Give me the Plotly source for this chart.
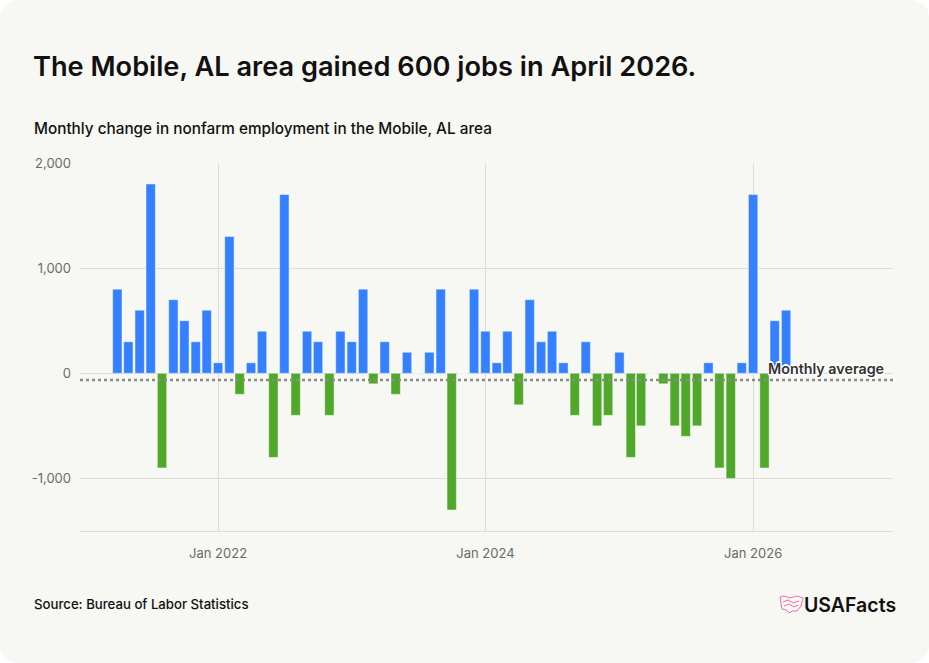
import plotly.graph_objects as go
import pandas as pd

# ---- data ----
start_month = "2021-04-01"
job_change = [800, 300, 600, 1800, -900, 700, 500, 300, 600, 100,
              1300, -200, 100, 400, -800, 1700, -400, 400, 300, -400,
              400, 300, 800, -100, 300, -200, 200, 0, 200, 800,
              -1300, 0, 800, 400, 100, 400, -300, 700, 300, 400,
              100, -400, 300, -500, -400, 200, -800, -500, 0, -100,
              -500, -600, -500, 100, -900, -1000, 100, 1700, -900, 500,
              600]
months = pd.date_range(start_month, periods=len(job_change), freq="MS")
monthly_average = -65
tick_dates = ["2022-01-01", "2024-01-01", "2026-01-01"]
tick_labels = ["Jan 2022", "Jan 2024", "Jan 2026"]
y_ticks = [-1000, 0, 1000, 2000]
y_tick_labels = ["-1,000", "0", "1,000", "2,000"]

title = "The Mobile, AL area gained 600 jobs in April 2026."
subtitle = "Monthly change in nonfarm employment in the Mobile, AL area"
source = "Source: Bureau of Labor Statistics"

# ---- style ----
W, H = 929, 663
L, R, T, B = 80, 36, 163, 132
PW, PH = W - L - R, H - T - B
CARD = "#F7F7F3"
BLUE = "#3580FF"
GREEN = "#4FA82A"
GRID = "#DDDDD8"
FONT = "Inter, Roboto, sans-serif"


def px(x, y):
    return (x - L) / PW, (H - B - y) / PH


colors = [BLUE if v >= 0 else GREEN for v in job_change]

fig = go.Figure()
fig.add_trace(go.Bar(
    x=months, y=job_change,
    marker=dict(color=colors, line=dict(color="rgba(255,255,255,0.45)", width=1)),
    width=25.5 * 86400000,
    hoverinfo="x+y",
))

# dotted average line
fig.add_shape(type="line", xref="paper", yref="y", x0=0, x1=1,
              y0=monthly_average, y1=monthly_average,
              line=dict(color="#8A8A8A", width=2.5, dash="dot"))

# card background with rounded corners
r = 20
x0p, x1p = 0, W
y0p, y1p = 0, H


def pt(x, y):
    a, b = px(x, y)
    return f"{a:.5f},{b:.5f}"


card_path = (f"M {pt(x0p + r, y0p)} L {pt(x1p - r, y0p)} Q {pt(x1p, y0p)} {pt(x1p, y0p + r)} "
             f"L {pt(x1p, y1p - r)} Q {pt(x1p, y1p)} {pt(x1p - r, y1p)} "
             f"L {pt(x0p + r, y1p)} Q {pt(x0p, y1p)} {pt(x0p, y1p - r)} "
             f"L {pt(x0p, y0p + r)} Q {pt(x0p, y0p)} {pt(x0p + r, y0p)} Z")
fig.add_shape(type="path", xref="paper", yref="paper", path=card_path,
              fillcolor=CARD, line=dict(width=0), layer="below")

# small pink logo mark (outline style)
pink = "#EE6FAE"
logo_paths = [
    [(783, 602), (788, 600), (793, 603), (799, 601)],
    [(784, 606), (789, 604), (794, 607), (798, 605)],
]
for seg in logo_paths:
    p = "M " + " L ".join(pt(x, y) for x, y in seg)
    fig.add_shape(type="path", xref="paper", yref="paper", path=p,
                  line=dict(color=pink, width=1))
outline = [(780, 597), (784, 596), (790, 598), (797, 596), (803, 598), (801, 606),
           (797, 611), (792, 611), (790, 613), (786, 610), (782, 609), (780, 597)]
fig.add_shape(type="path", xref="paper", yref="paper",
              path="M " + " L ".join(pt(x, y) for x, y in outline) + " Z",
              line=dict(color=pink, width=1))


def add_text(text, x, y, size, color, weight=400, xanchor="left", family=FONT):
    a, b = px(x, y)
    fig.add_annotation(text=text, xref="paper", yref="paper", x=a, y=b,
                       xanchor=xanchor, yanchor="middle", showarrow=False,
                       font=dict(size=size, color=color, family=family, weight=weight))


add_text(title, 31, 67, 27.2, "#111111", 600)
add_text(subtitle, 32, 128, 15.3, "#111111", 500)
add_text(source, 32, 604, 13.2, "#111111", 500)
add_text("USAFacts", 898, 605, 19.5, "#111111", 600, xanchor="right")

# Monthly average label
fig.add_annotation(text="Monthly average", xref="paper", yref="y",
                   x=px(886, 0)[0], y=monthly_average, xanchor="right", yanchor="middle",
                   yshift=12, showarrow=False,
                   font=dict(size=14.3, color="#333333", family=FONT, weight=600,
                             shadow="-1px -1px 0 #fff, 1px -1px 0 #fff, -1px 1px 0 #fff, 1px 1px 0 #fff, 0 2px 0 #fff, 0 -2px 0 #fff"))

fig.update_layout(
    width=W, height=H,
    margin=dict(l=L, r=R, t=T, b=B, pad=0),
    paper_bgcolor="white",
    plot_bgcolor="rgba(0,0,0,0)",
    showlegend=False,
    bargap=0.15,
    font=dict(family=FONT, size=13, color="#6B6B6B"),
    xaxis=dict(
        type="date",
        range=["2020-12-20", "2027-01-18"],
        tickvals=tick_dates, ticktext=tick_labels,
        showgrid=True, gridcolor=GRID, gridwidth=1,
        showline=True, linecolor=GRID, linewidth=1,
        ticks="", ticklabelstandoff=10,
        tickfont=dict(size=13, color="#6B6B6B"),
        zeroline=False, fixedrange=True,
    ),
    yaxis=dict(
        range=[-1500, 2000],
        tickvals=y_ticks, ticktext=y_tick_labels,
        showgrid=True, gridcolor=GRID, gridwidth=1,
        zeroline=False, showline=False, ticks="",
        ticklabelstandoff=8,
        tickfont=dict(size=13, color="#6B6B6B"),
        fixedrange=True,
    ),
)

fig.write_html("out.html", config={"displayModeBar": False})
